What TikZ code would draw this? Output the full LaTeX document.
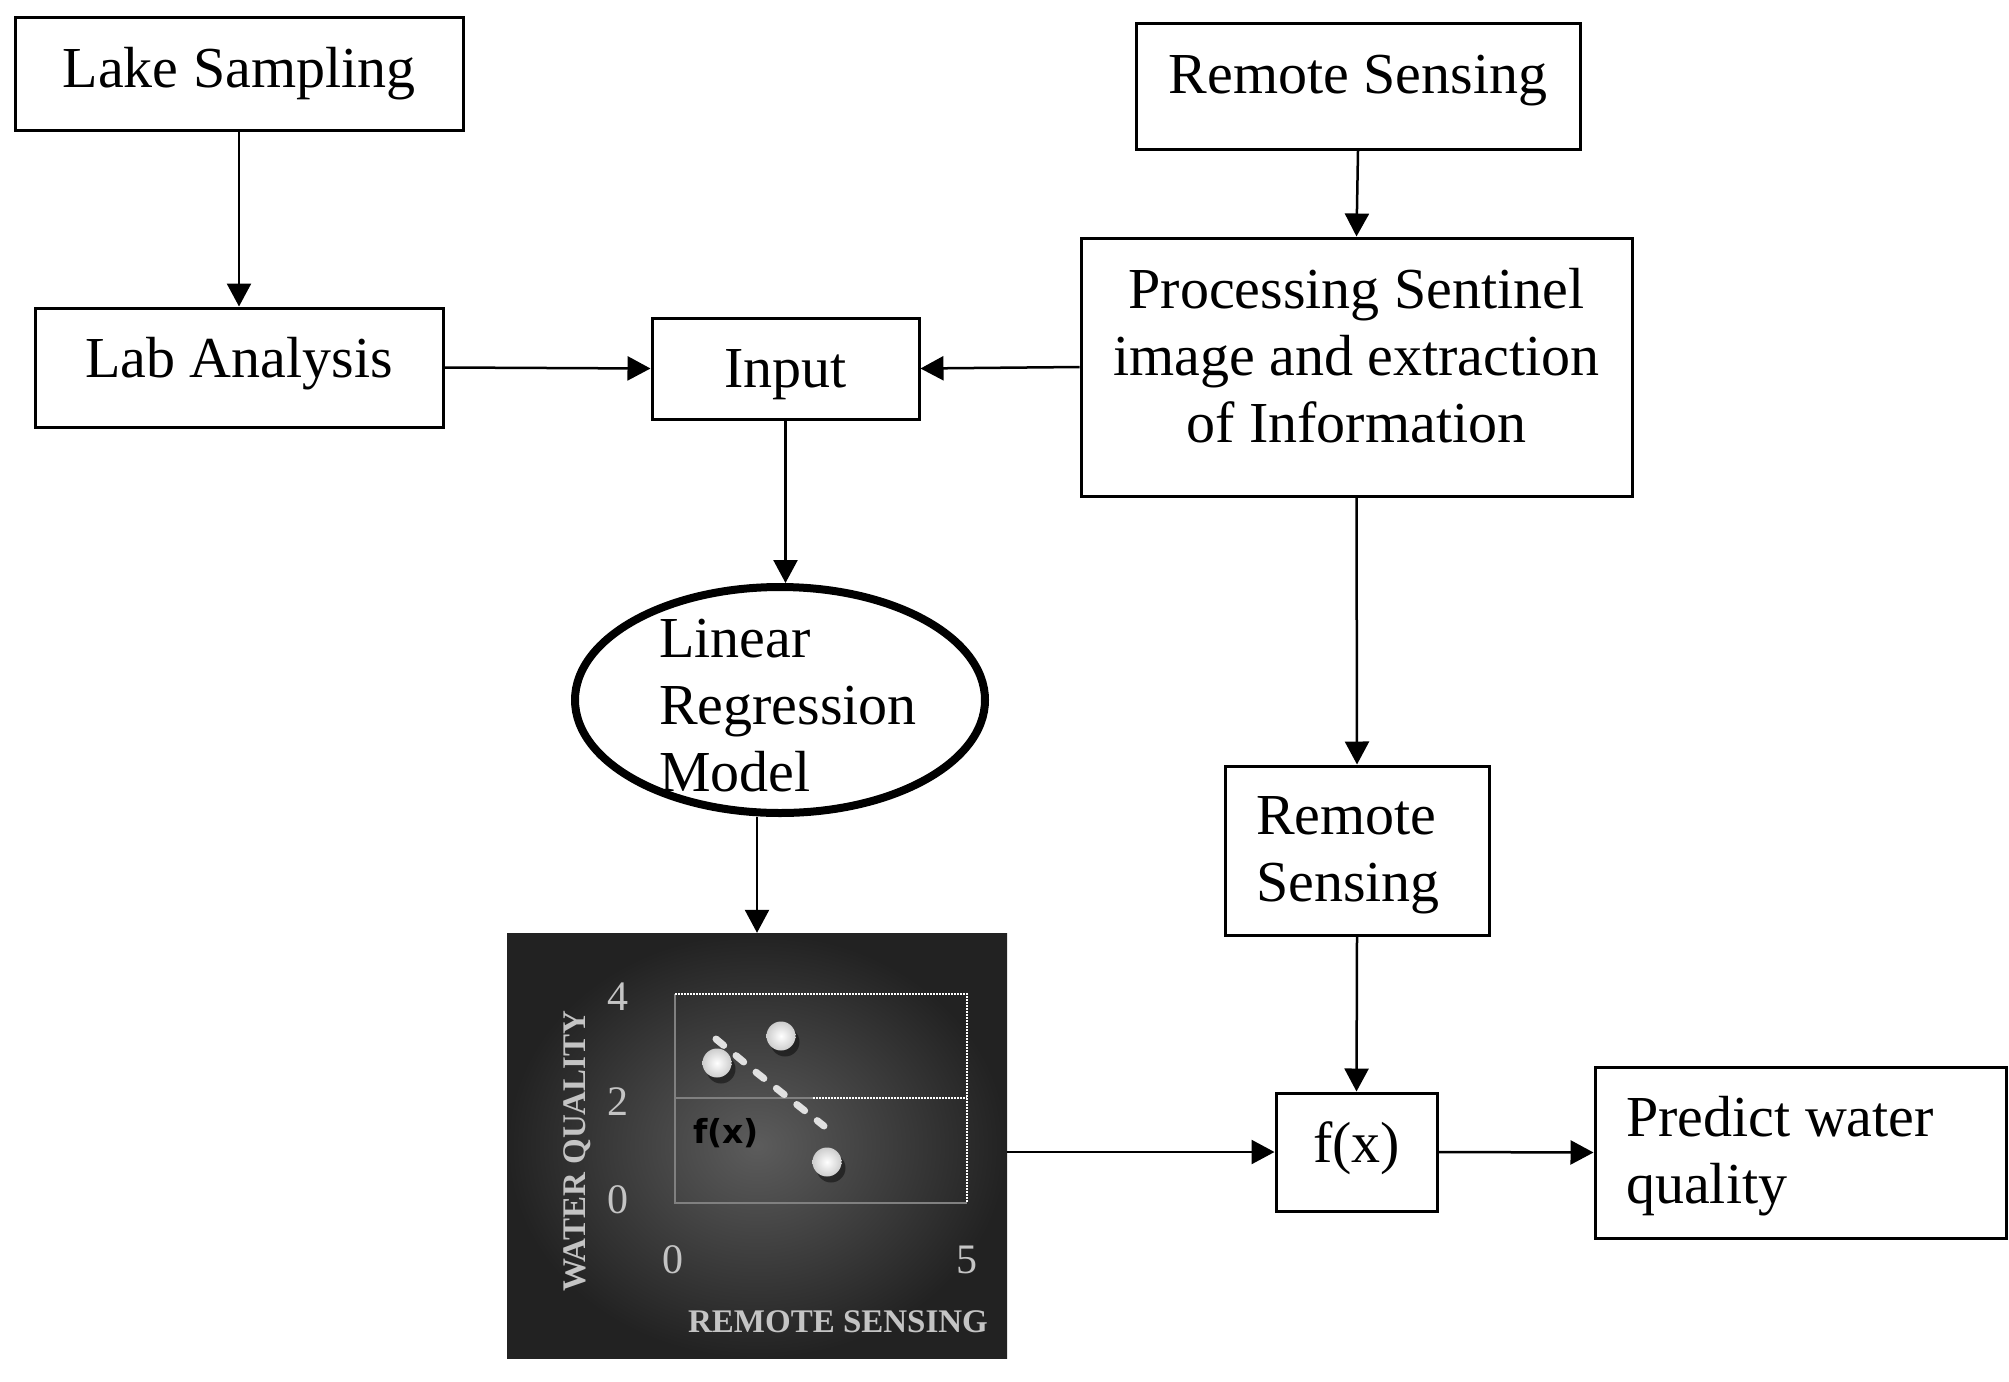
\documentclass[tikz,border=0pt]{standalone}
\usepackage{fontspec}
\setmainfont{Liberation Serif}
\newfontfamily\dvs{DejaVu Sans}
\usetikzlibrary{arrows.meta,shapes.geometric,calc}
\definecolor{chartin}{RGB}{92,92,92}
\definecolor{chartout}{RGB}{34,34,34}
\definecolor{ticklbl}{RGB}{196,196,196}
\definecolor{axisgray}{RGB}{128,128,128}
\definecolor{dotball}{RGB}{225,225,225}
\tikzset{
  box/.style={draw, line width=3pt, inner sep=0pt, font=\fontsize{58}{67}\selectfont},
  txt/.style={inner sep=0pt, font=\fontsize{58}{67}\selectfont},
  arr/.style={line width=2.5pt, -{Triangle[length=23pt,width=24pt]}},
  ticktxt/.style={text=ticklbl, font=\fontsize{42}{46}\selectfont, inner sep=0pt},
  axtitle/.style={text=ticklbl, font=\fontsize{33}{36}\selectfont\bfseries, inner sep=0pt},
  ball/.style={inner color=white, outer color=dotball!80!gray, draw=none},
  ballshadow/.style={fill=black, opacity=0.45, draw=none}
}
\begin{document}
\begin{tikzpicture}[x=1pt,y=-1pt]
\useasboundingbox (0,0) rectangle (2009,1381);
% boxes
\node[box, minimum width=448pt, minimum height=112pt] (lake) at (239,74) {Lake Sampling};
\node[box, minimum width=408pt, minimum height=119pt] (lab) at (239,367.5) {};
\node[txt, anchor=base] (labtext) at (239,377) {Lab Analysis};
\node[box, minimum width=444pt, minimum height=125pt] (rstop) at (1358,86.5) {};
\node[txt, anchor=base] (rstoptext) at (1358,93) {Remote Sensing};
\node[box, minimum width=551pt, minimum height=258pt] (proc) at (1356.5,367) {};
\node[txt, align=center] (proctext) at (1356.5,355.5) {Processing Sentinel\\image and extraction\\of Information};
\node[box, minimum width=267pt, minimum height=101pt] (input) at (785.5,368.5) {};
\node[txt, anchor=base] (inputtext) at (785.5,387) {Input};
\node[draw, ellipse, line width=8pt, minimum width=410pt, minimum height=226pt, inner sep=0pt] (lrm) at (780,700) {};
\node[txt, anchor=west, align=left] (lrmtext) at (659,706) {Linear\\Regression\\Model};
\node[box, minimum width=264pt, minimum height=169pt] (rs2) at (1357,850.5) {};
\node[txt, anchor=west, align=left] (rs2text) at (1256,855) {Remote\\Sensing};
\node[box, minimum width=161pt, minimum height=118pt] (fx) at (1356.5,1152) {};
\node[txt, anchor=base] (fxtext) at (1356.5,1162) {f(x)};
\node[box, minimum width=411pt, minimum height=171pt] (pred) at (1800.5,1152.5) {};
\node[txt, anchor=west, align=left] (predtext) at (1626,1156.5) {Predict water\\quality};
% chart
\node[inner color=chartin, outer color=chartout, minimum width=500pt, minimum height=425pt, inner sep=0pt] (chart) at (757,1145.5) {};
\draw[axisgray, line width=2pt] (675,994) -- (675,1203) -- (967,1203);
\draw[axisgray, line width=2pt] (675,1098) -- (813,1098);
\draw[white, line width=1.5pt, dash pattern=on 1.5pt off 1.5pt] (675,994) -- (967,994) -- (967,1203);
\draw[white, line width=1.5pt, dash pattern=on 1.5pt off 1.5pt] (813,1098) -- (967,1098);
\node[ticktxt] (t4) at (618,997) {4};
\node[ticktxt] (t2) at (618,1102) {2};
\node[ticktxt] (t0) at (618,1200) {0};
\node[ticktxt] (x0) at (673,1260) {0};
\node[ticktxt] (x5) at (967,1260) {5};
\node[axtitle, rotate=90] (ytitle) at (577,1151) {WATER QUALITY};
\node[axtitle] (xtitle) at (838,1322) {REMOTE SENSING};
\fill[ballshadow] (721,1069) circle (14.5);
\fill[ballshadow] (785,1042) circle (14.5);
\fill[ballshadow] (831,1168) circle (14.5);
\shade[ball] (717,1063) circle (14.5);
\shade[ball] (781,1036) circle (14.5);
\shade[ball] (827,1162) circle (14.5);
\draw[dotball, line width=7pt, line cap=round, dash pattern=on 10pt off 16pt] (716,1039) -- (757,1073) -- (824,1126);
\node[font=\dvs\bfseries\fontsize{33}{38}\selectfont, inner sep=0pt] (fxlbl) at (726,1133) {f(x)};
% connectors
\draw[arr] (lake.south) -- (lab.north);
\draw[arr] (lab.east) -- (input.west);
\draw[arr] (proc.west) -- (input.east);
\draw[arr] (rstop.south) -- (proc.north);
\draw[arr] (input.south) -- (input.south |- lrm.north);
\draw[arr] (proc.south) -- (rs2.north);
\draw[arr] (chart.north |- lrm.south) -- (chart.north);
\draw[arr] (rs2.south) -- (fx.north);
\draw[arr] (chart.east |- fx.west) -- (fx.west);
\draw[arr] (fx.east) -- (pred.west);
\end{tikzpicture}
\end{document}
